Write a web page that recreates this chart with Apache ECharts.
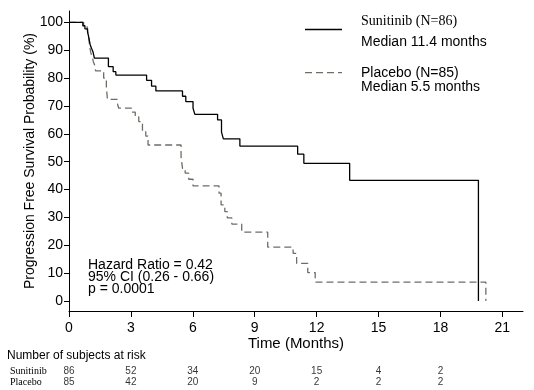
<!DOCTYPE html>
<html><head><meta charset="utf-8">
<script src="https://cdn.jsdelivr.net/npm/echarts@6/dist/echarts.min.js"></script>
<style>html,body{margin:0;padding:0;background:#fff}#c{width:534px;height:390px}</style>
</head><body><div id="c"></div>
<script>
// Kaplan-Meier estimates (time in months, survival in %)
const sunTime = [0, 0.67, 0.77, 0.90, 0.94, 0.97, 1.00, 1.03, 1.09, 1.16, 1.23, 1.91, 2.14, 2.27, 3.76, 4.00, 4.21, 5.50, 5.66, 6.01, 6.10, 7.20, 7.39, 7.48, 8.28, 11.08, 11.38, 13.60, 19.84];
const sunSurv = [100, 98.8, 97.7, 96.5, 95.3, 94.2, 93.0, 91.9, 90.7, 89.5, 87.2, 84.1, 82.3, 81.1, 79.2, 77.1, 75.4, 73.5, 71.6, 69.2, 67.0, 65.0, 60.6, 58.2, 55.6, 52.7, 49.4, 43.3, 0];

const plaTime = [0, 0.71, 0.88, 0.91, 0.94, 0.96, 0.98, 1.00, 1.02, 1.05, 1.09, 1.14, 1.18, 1.24, 1.29, 1.68, 1.81, 1.86, 2.34, 2.41, 3.03, 3.21, 3.38, 3.56, 3.72, 3.83, 5.43, 5.50, 5.63, 5.80, 6.01, 7.27, 7.37, 7.55, 7.67, 7.89, 8.37, 9.63, 10.86, 11.03, 11.57, 11.93, 20.20];
const plaSurv = [100, 98.8, 97.6, 96.5, 95.3, 94.1, 92.9, 91.8, 90.6, 89.4, 88.2, 87.1, 85.9, 84.7, 82.6, 80.0, 77.0, 72.4, 71.0, 69.2, 67.8, 66.2, 64.4, 60.8, 59.2, 56.0, 51.8, 47.6, 45.9, 43.7, 41.3, 38.7, 34.5, 32.1, 29.8, 27.6, 24.7, 19.3, 17.1, 13.5, 10.2, 6.8, 0];

// Axis ticks
const xTicks = [0, 3, 6, 9, 12, 15, 18, 21];
const yTicks = [0, 10, 20, 30, 40, 50, 60, 70, 80, 90, 100];

// Number of subjects at risk
const riskTimes = [0, 3, 6, 9, 12, 15, 18];
const riskGroups = ['Sunitinib', 'Placebo'];
const sunRisk = [86, 52, 34, 20, 15, 4, 2];
const plaRisk = [85, 42, 20, 9, 2, 2, 2];

const SANS = "Arial, 'Liberation Sans', sans-serif";
const SERIF = "'Times New Roman', 'Liberation Serif', serif";

const chart = echarts.init(document.getElementById('c'), null, {renderer: 'canvas'});

const riskData = [];
riskTimes.forEach((t, i) => {
  riskData.push([t, riskGroups[0], sunRisk[i]]);
  riskData.push([t, riskGroups[1], plaRisk[i]]);
});

const option = {
  animation: false,
  backgroundColor: '#fff',
  grid: [
    {left: 69, right: 11, top: 11, bottom: 79},
    {left: 69, right: 11, top: 365.8, height: 22.4}
  ],
  xAxis: [
    {
      type: 'value', gridIndex: 0, min: 0, max: 22,
      axisLine: {show: true, onZero: false, lineStyle: {color: '#000', width: 1}},
      axisTick: {show: true, length: 6, customValues: xTicks, lineStyle: {color: '#000', width: 1}},
      axisLabel: {customValues: xTicks, margin: 10, fontSize: 14, fontFamily: SANS, color: '#000'},
      splitLine: {show: false},
      name: 'Time (Months)', nameLocation: 'middle', nameGap: 25, nameMoveOverlap: false,
      nameTextStyle: {fontSize: 15, fontFamily: SANS, color: '#000'}
    },
    {type: 'value', gridIndex: 1, min: 0, max: 22, show: false}
  ],
  yAxis: [
    {
      type: 'value', gridIndex: 0, min: -3.6, max: 104.1,
      axisLine: {show: true, onZero: false, lineStyle: {color: '#000', width: 1}},
      axisTick: {show: true, length: 5, customValues: yTicks, lineStyle: {color: '#000', width: 1}},
      axisLabel: {customValues: yTicks, margin: 6, fontSize: 14, fontFamily: SANS, color: '#000'},
      splitLine: {show: false},
      name: 'Progression Free Survival Probability (%)', nameLocation: 'middle', nameRotate: 90, nameGap: 32,
      nameMoveOverlap: false,
      nameTextStyle: {fontSize: 14, fontFamily: SANS, color: '#000'}
    },
    {
      type: 'category', gridIndex: 1, data: riskGroups, inverse: true,
      axisLine: {show: false}, axisTick: {show: false}, splitLine: {show: false},
      axisLabel: {interval: 0, align: 'left', margin: 59, fontFamily: SERIF, fontSize: 10, color: '#000'}
    }
  ],
  series: [
    {
      name: 'Placebo', type: 'line', step: 'end', symbol: 'none', xAxisIndex: 0, yAxisIndex: 0,
      data: plaTime.map((t, i) => [t, plaSurv[i]]),
      lineStyle: {color: '#6e6e66', width: 1.3, type: [7, 4]}
    },
    {
      name: 'Sunitinib', type: 'line', step: 'end', symbol: 'none', xAxisIndex: 0, yAxisIndex: 0,
      data: sunTime.map((t, i) => [t, sunSurv[i]]),
      lineStyle: {color: '#000', width: 1.3}
    },
    {
      name: 'risk', type: 'scatter', xAxisIndex: 1, yAxisIndex: 1, symbolSize: 1,
      itemStyle: {color: 'rgba(0,0,0,0)'},
      data: riskData,
      encode: {x: 0, y: 1},
      label: {show: true, position: 'inside', formatter: p => String(p.value[2]),
              fontSize: 10, fontFamily: SANS, color: '#000'}
    }
  ],
  graphic: [
    {type: 'line', shape: {x1: 305, y1: 29.5, x2: 342, y2: 29.5}, style: {stroke: '#000', lineWidth: 1.3}},
    {type: 'text', x: 361, y: 21.7, style: {text: 'Sunitinib (N=86)', fontSize: 14, fontFamily: SERIF, fill: '#000', align: 'left', verticalAlign: 'middle'}},
    {type: 'text', x: 361, y: 42.3, style: {text: 'Median 11.4 months', fontSize: 14, fontFamily: SANS, fill: '#000', align: 'left', verticalAlign: 'middle'}},
    {type: 'line', shape: {x1: 305, y1: 72.7, x2: 342, y2: 72.7}, style: {stroke: '#6e6e66', lineWidth: 1.3, lineDash: [7, 4]}},
    {type: 'text', x: 361, y: 73.3, style: {text: 'Placebo (N=85)', fontSize: 14, fontFamily: SANS, fill: '#000', align: 'left', verticalAlign: 'middle'}},
    {type: 'text', x: 361, y: 86.7, style: {text: 'Median 5.5 months', fontSize: 14, fontFamily: SANS, fill: '#000', align: 'left', verticalAlign: 'middle'}},
    {type: 'text', x: 88, y: 265.5, style: {text: 'Hazard Ratio = 0.42', fontSize: 14, fontFamily: SANS, fill: '#000', align: 'left', verticalAlign: 'middle'}},
    {type: 'text', x: 88, y: 277.3, style: {text: '95% CI (0.26 - 0.66)', fontSize: 14, fontFamily: SANS, fill: '#000', align: 'left', verticalAlign: 'middle'}},
    {type: 'text', x: 88, y: 289, style: {text: 'p = 0.0001', fontSize: 14, fontFamily: SANS, fill: '#000', align: 'left', verticalAlign: 'middle'}},
    {type: 'text', x: 7, y: 355.4, style: {text: 'Number of subjects at risk', fontSize: 12, fontFamily: SANS, fill: '#000', align: 'left', verticalAlign: 'middle'}}
  ]
};
chart.setOption(option);
</script>
</body></html>
